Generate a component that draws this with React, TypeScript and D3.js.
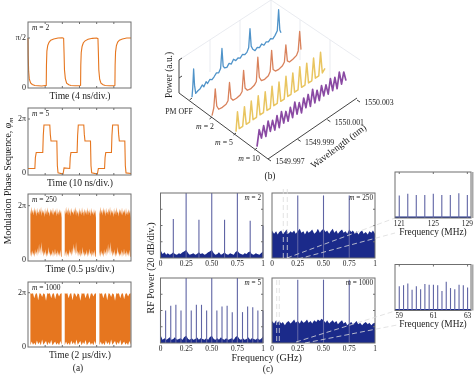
import React from "react";
import * as d3 from "d3";

const serif = "'Liberation Serif','Times New Roman',serif";
const ORANGE = "#e6761f";
const NAVY = "#1b2a8a";
const SPIKE = "#5f64a4";
const FRAME = "#6f6f6f";

// (a) m = 2 trace: time (ns) and phase (rad)
const a2T = [0,0.05,0.15,0.3,0.6,1,1.6,2.4,3.2,4,4.25,4.3,4.4,4.6,4.9,5.3,6,7,8,8.3,8.4,8.5,8.7,9,9.5,10,11,12,12.25,12.3,12.4,12.6,12.9,13.3,14,15,16,16.3,16.4,16.5,16.7,17,17.5,18,19,20,20.25,20.3,20.4,20.6,20.9,21.3,22,23,24];
const a2V = [1.57,1.0,0.5,0.26,0.13,0.08,0.05,0.04,0.03,0.05,0.05,0.7,1.15,1.33,1.43,1.5,1.54,1.57,1.58,1.56,1.1,0.55,0.27,0.12,0.07,0.05,0.04,0.04,0.05,0.7,1.1,1.3,1.42,1.48,1.53,1.56,1.57,1.55,1.1,0.55,0.25,0.12,0.07,0.05,0.04,0.04,0.05,0.7,1.12,1.33,1.44,1.5,1.54,1.57,1.57];

// (a) m = 5 trace: time (ns) and phase (units of 2 pi)
const a5T = [0,4,4.3,4.8,8.6,8.9,9.3,12.7,13,13.4,16.8,17.1,17.5,20.4,20.7,21,24.3,24.6,25,28.6,28.9,29.3,32.5,32.8,33.2,36.4,36.7,37.1,40.4,40.7,41,44.6,44.9,45.3,48.6,48.9,49.3,52.5,52.8,53.2,56.4,56.7,57.1,60];
const a5V = [0.1,0.1,0.3,0.39,0.39,0.7,0.89,0.89,0.72,0.6,0.6,0.15,0.02,0.0,0.05,0.11,0.1,0.3,0.39,0.39,0.7,0.89,0.89,0.72,0.6,0.6,0.15,0.02,0.0,0.05,0.1,0.1,0.3,0.39,0.39,0.7,0.89,0.89,0.72,0.6,0.6,0.15,0.02,0.01];

// (a) m = 250 and m = 1000 envelopes of one repeating sequence (units of 2 pi)
const a250Top = [.92,.84,.98,.86,.93,.82,.97,.85,.94,.80,.96,.86,.90,.83,.95,.87,.98,.81,.93,.85,.91,.79,.96,.84,.92,.82,.97,.86,.90,.80,.95,.85,.93,.83,.97,.82,.91,.86,.94,.80,.96,.84,.90,.82,.94,.85,.92,.78];
const a250Bot = [.06,.16,.05,.18,.08,.14,.05,.20,.10,.16,.07,.22,.09,.30,.12,.24,.08,.33,.11,.18,.06,.15,.08,.20,.05,.14,.07,.24,.09,.16,.06,.13,.08,.19,.05,.16,.07,.21,.09,.14,.05,.18,.08,.15,.06,.19,.07,.05];
const a1000Top = [.99,.98,.99,.90,.98,.99,.86,.99,.98,.92,.99,.97,.85,.99,.98,.99,.90,.98,.99,.88,.98,.99,.93,.98,.99];
const a1000Bot = [.03,.10,.04,.08,.03,.12,.05,.09,.03,.14,.04,.08,.11,.03,.09,.05,.13,.03,.07,.10,.04,.08,.03,.11,.04];
const blockStarts = [0.07, 1.07, 2.08];

// (b) optical spectra: offset from 1549.997 nm in pm, power (a.u.)
const offW = [0,0.05,0.11,0.17,0.25,0.4,0.55,0.7,0.8,0.95,1.05,1.2,1.35,1.5,1.65,1.8,1.93,2.02,2.1,2.2,2.35,2.5,2.65,2.8,2.95,3.1,3.25,3.4,3.55,3.7,3.82,3.91,3.99,4.1,4.25,4.4,4.55,4.7,4.85,5,5.15,5.3,5.45,5.6,5.75,5.84,5.92,6];
const offP = [0.03,0.35,1.0,0.4,0.08,0.12,0.14,0.22,0.12,0.25,0.15,0.24,0.18,0.24,0.32,0.27,0.38,1.06,0.4,0.3,0.27,0.36,0.28,0.4,0.3,0.34,0.28,0.36,0.3,0.33,0.45,1.1,0.45,0.3,0.2,0.26,0.2,0.28,0.18,0.25,0.2,0.26,0.2,0.27,0.38,1.1,0.35,0.22];
const m2W = [0,0.12,0.22,0.32,0.45,0.7,0.95,1.08,1.18,1.28,1.42,1.65,1.9,2.03,2.13,2.23,2.38,2.6,2.85,2.99,3.09,3.19,3.33,3.55,3.8,3.92,4.02,4.12,4.27,4.5,4.75,4.88,4.98,5.08,5.22,5.45,5.7,5.81,5.91,6];
const m2P = [0.05,0.28,0.93,0.28,0.12,0.1,0.12,0.2,0.82,0.22,0.1,0.09,0.12,0.2,0.92,0.25,0.12,0.09,0.13,0.22,1.05,0.3,0.13,0.1,0.14,0.25,0.97,0.25,0.14,0.12,0.16,0.25,0.83,0.22,0.13,0.15,0.2,0.32,0.98,0.3];
const m5W = [0,.1,.22,.45,.57,.69,.91,1.03,1.15,1.38,1.5,1.62,1.85,1.97,2.09,2.31,2.43,2.55,2.78,2.9,3.02,3.25,3.37,3.49,3.71,3.83,3.95,4.18,4.3,4.42,4.65,4.77,4.89,5.11,5.23,5.35,5.58,5.7,5.82,6];
const m5P = [0.05,.72,.08,.08,.74,.07,.07,.78,.07,.07,.8,.08,.08,.78,.07,.07,.82,.08,.08,.8,.07,.07,.84,.08,.08,.8,.07,.07,.86,.08,.08,.82,.07,.07,.84,.08,.08,.88,.1,.2];
const m10P = [0.05,0.6,0.25,0.64,0.2,0.7,0.28,0.62,0.22,0.68,0.2,0.72,0.26,0.62,0.22,0.66,0.24,0.74,0.26,0.62,0.2,0.68,0.28,0.7,0.22,0.78,0.24,0.64,0.22,0.7,0.28,0.62,0.24,0.74,0.26,0.68,0.22,0.76,0.28,0.66,0.3];
const offsetTicks = [0, 2, 4, 6];
const offsetTickLabels = ["1549.997", "1549.999", "1550.001", "1550.003"];
const seriesNames = ["PM OFF", "m = 2", "m = 5", "m = 10"];
const seriesColors = ["#4f93c9", "#d9825c", "#e9c560", "#8a4aa3"];

// (c) RF spectra: frequency (GHz), dB
const rfX = [0,.02,.04,.055,.07,.09,.105,.125,.14,.16,.18,.195,.215,.23,.25,.27,.285,.305,.32,.34,.355,.375,.39,.41,.43,.445,.465,.48,.5,.52,.535,.555,.57,.59,.605,.625,.64,.66,.68,.695,.715,.73,.75,.77,.785,.805,.82,.84,.855,.875,.89,.91,.93,.945,.965,.98,1];
const floorM2 = [-70,-75,-73,-76,-74,-76,-75,-73,-75,-76,-74,-75,-73,-72,-70,-74,-76,-75,-74,-76,-75,-73,-75,-74,-76,-75,-73,-72,-70,-74,-76,-75,-73,-76,-75,-73,-75,-76,-74,-75,-76,-73,-71,-74,-75,-76,-74,-75,-73,-72,-75,-76,-74,-75,-76,-74,-72];
const floorM5 = [-70,-76,-74,-76,-75,-73,-76,-75,-73,-76,-75,-74,-76,-73,-71,-75,-76,-74,-76,-75,-73,-76,-74,-75,-76,-74,-76,-73,-71,-75,-76,-74,-76,-73,-75,-76,-74,-76,-75,-74,-76,-73,-71,-75,-76,-74,-76,-75,-73,-76,-74,-75,-76,-74,-76,-75,-72];
const floorM250 = [-46,-50,-47,-51,-48,-46,-50,-48,-45,-50,-47,-49,-46,-50,-47,-44,-49,-47,-51,-46,-49,-47,-45,-50,-48,-44,-49,-46,-44,-48,-46,-50,-47,-44,-49,-46,-50,-47,-45,-49,-47,-50,-45,-48,-46,-50,-47,-51,-48,-46,-50,-48,-51,-47,-49,-46,-50];
const floorM1000 = [-53,-56,-52,-55,-53,-56,-54,-58,-55,-53,-56,-54,-51,-55,-53,-56,-52,-55,-54,-51,-55,-53,-56,-52,-54,-51,-53,-50,-52,-55,-52,-56,-54,-52,-55,-53,-57,-54,-52,-56,-54,-58,-56,-54,-57,-55,-53,-57,-55,-58,-56,-54,-57,-55,-58,-56,-55];
const m2SpikeF = [0,0.125,0.25,0.375,0.5,0.625,0.75,0.875,1];
const m2SpikeD = [-40,-32,0,-33,0,-33,0,-34,-40];
const m5SpikeF = [0,0.05,0.1,0.15,0.2,0.25,0.3,0.35,0.4,0.45,0.5,0.55,0.6,0.65,0.7,0.75,0.8,0.85,0.9,0.95,1];
const m5SpikeD = [-40,-40,-34,-33,-40,0,-40,-33,-33,-40,0,-40,-35,-34,-42,0,-42,-35,-36,-40,-40];
const m250SpikeF = [0.25,0.5,0.75];
const m250SpikeD = [-3,-3,-3];
const m1000SpikeF = [0.25,0.5,0.75];
const m1000SpikeD = [-2,-2,-2];
const rfTicks = [0,0.25,0.5,0.75,1];
const rfTickLabels = ["0","0.25","0.50","0.75","1"];
const dbTicks = [-60,-40,-20];

// (c) zoomed spectra
const in1F = [121,122,123,124,125,126,127,128,129];
const in1D = [-41,-38,-40,-40,-38,-40,-40,-37,-40];
const in2F = [59,59.25,59.5,59.75,60,60.25,60.5,60.75,61,61.25,61.5,61.75,62,62.25,62.5,62.75,63];
const in2D = [-38,-36,-33,-44,-38,-43,-34,-35,-35,-36,-46,-30,-41,-43,-35,-36,-40];
const in1Ticks = [121,125,129];
const in2Ticks = [59,61,63];

const T = (p: any) => <text fontFamily={serif} fill="#222" {...p} />;
const M = ({ x, y, v, anchor = "start", size = 7.5 }: any) => (
  <T x={x} y={y} fontSize={size} textAnchor={anchor} dominantBaseline="middle">
    <tspan fontStyle="italic">m</tspan> = {v}
  </T>
);

function Frame({ x0, x1, y0, y1 }: any) {
  return <rect x={x0} y={y0} width={x1 - x0} height={y1 - y0} fill="none" stroke={FRAME} strokeWidth={1} />;
}

function TimePanel({ y0, y1, zero, top, yMax, children, name, xLabel }: any) {
  const x0 = 28, x1 = 131;
  const tickX = d3.range(1, 6).map((i) => x0 + ((x1 - x0) * i) / 6);
  return (
    <g>
      {children}
      <Frame x0={x0} x1={x1} y0={y0} y1={y1} />
      {tickX.map((x) => (
        <g key={x}>
          <line x1={x} x2={x} y1={y0} y2={y0 + 2} stroke={FRAME} />
          <line x1={x} x2={x} y1={y1} y2={y1 - 2} stroke={FRAME} />
        </g>
      ))}
      <line x1={x0} x2={x0 + 2} y1={top} y2={top} stroke={FRAME} />
      <T x={26} y={top} fontSize={8} textAnchor="end" dominantBaseline="middle">{yMax}</T>
      <T x={26} y={zero} fontSize={8} textAnchor="end" dominantBaseline="middle">0</T>
      <M x={32} y={y0 + 6} v={name} />
      <T x={80} y={y1 + 8.5} fontSize={9.6} textAnchor="middle" dominantBaseline="middle">{xLabel}</T>
    </g>
  );
}

function RfPanel({ x0, x1, y0, y1, floor, spikeF, spikeD, name, left }: any) {
  const x = d3.scaleLinear().domain([0, 1]).range([x0, x1]);
  const y = d3.scaleLinear().domain([-80, 0]).range([y1, y0]);
  const area = d3.area<number>().x((_, i) => x(rfX[i])).y0(y1).y1((d) => y(d)).curve(d3.curveLinear);
  return (
    <g>
      <path d={area(floor) as string} fill={NAVY} />
      {spikeF.map((f: number, i: number) => (
        <line key={f} x1={x(f)} x2={x(f)} y1={y1} y2={y(spikeD[i])} stroke={SPIKE} strokeWidth={1.1} />
      ))}
      <Frame x0={x0} x1={x1} y0={y0} y1={y1} />
      {left && dbTicks.map((d) => <line key={d} x1={x0} x2={x0 + 2} y1={y(d)} y2={y(d)} stroke={FRAME} />)}
      {dbTicks.map((d) => <line key={d} x1={x1} x2={x1 - 2} y1={y(d)} y2={y(d)} stroke={FRAME} />)}
      {rfTicks.map((f, i) => (
        <T key={f} x={x(f)} y={y1 + 6} fontSize={7.4} textAnchor="middle" dominantBaseline="middle">{rfTickLabels[i]}</T>
      ))}
      <M x={x1 - 2} y={y0 + 5} v={name} anchor="end" size={7.2} />
    </g>
  );
}

function Inset({ y0, y1, dom, f, d, ticks, labelY }: any) {
  const x0 = 395, x1 = 471;
  const x = d3.scaleLinear().domain(dom).range([x0, x1]);
  const y = d3.scaleLinear().domain([-80, 0]).range([y1, y0]);
  return (
    <g>
      <rect x={x0} y={y1 - 1.5} width={x1 - x0} height={1.5} fill={NAVY} />
      {f.map((v: number, i: number) => (
        <line key={v} x1={x(v)} x2={x(v)} y1={y1} y2={y(d[i])} stroke={SPIKE} strokeWidth={1.1} />
      ))}
      <Frame x0={x0} x1={x1} y0={y0} y1={y1} />
      <rect x={x1 + 0.5} y={y0} width={2} height={y1 - y0} fill="#a8a8a8" />
      {ticks.map((v: number) => (
        <g key={v}>
          <line x1={x(v)} x2={x(v)} y1={y0} y2={y0 + 2} stroke={FRAME} />
          <T x={x(v)} y={y1 + 6} fontSize={7.4} textAnchor="middle" dominantBaseline="middle">{v}</T>
        </g>
      ))}
      <T x={433} y={labelY} fontSize={9.4} textAnchor="middle" dominantBaseline="middle">Frequency (MHz)</T>
    </g>
  );
}

function Guides() {
  const segs = [
    [283.3, 189, 283.3, 258], [287.3, 189, 287.3, 258],
    [276.7, 280, 276.7, 343], [279.3, 280, 279.3, 343],
    [287, 258, 395, 218], [298, 259, 395, 233],
    [296, 342, 395, 311], [305, 343, 397, 325],
  ];
  return (
    <g>
      {segs.map((s, i) => (
        <line key={i} x1={s[0]} y1={s[1]} x2={s[2]} y2={s[3]} stroke="#dcdcdc" strokeWidth={0.8} strokeDasharray="5 3" />
      ))}
    </g>
  );
}

function Panel3D() {
  const wx = d3.scaleLinear().domain([0, 6]).range([0, 89]);
  const wy = d3.scaleLinear().domain([0, 6]).range([0, -59]);
  const pw = d3.scaleLinear().domain([0, 1]).range([0, -28]);
  const startX = [192, 212, 236, 257];
  const startY = [98, 117, 133, 148];
  const line = (s: number) =>
    d3.line<[number, number]>()
      .x((d) => startX[s] + wx(d[0]))
      .y((d) => startY[s] + wy(d[0]) + pw(d[1]))
      .curve(d3.curveLinear);
  const even = (vals: number[]) => {
    const idx = d3.scaleLinear().domain([0, vals.length - 1]).range([0, 6]);
    return vals.map((v, i) => [idx(i), v] as [number, number]);
  };
  const zip = (w: number[], p: number[]) => w.map((v, i) => [v, p[i]] as [number, number]);
  const series = [zip(offW, offP), zip(m2W, m2P), zip(m5W, m5P), even(m10P)];
  const fx = (w: number) => 268 + wx(w);
  const fy = (w: number) => 159 + wy(w);
  const wallGrid = [[179, 60, 271, 0], [271, 0, 360, 60], [210, 40, 210, 72], [240, 20, 240, 52], [271, 0, 271, 40], [300, 20, 300, 60], [330, 40, 330, 80]];
  return (
    <g>
      {wallGrid.map((s, i) => (
        <line key={i} x1={s[0]} y1={s[1]} x2={s[2]} y2={s[3]} stroke="#e3e6ec" strokeWidth={0.8} />
      ))}
      <line x1={179} y1={60} x2={179} y2={93} stroke="#444" strokeWidth={1} />
      <line x1={179} y1={78} x2={182} y2={76} stroke="#444" />
      <line x1={179} y1={60} x2={182} y2={58} stroke="#444" />
      <line x1={179} y1={93} x2={268} y2={159} stroke="#444" strokeWidth={1} />
      <line x1={268} y1={159} x2={357} y2={98} stroke="#444" strokeWidth={1} />
      {offsetTicks.map((w, i) => (
        <g key={w}>
          <line x1={fx(w)} y1={fy(w)} x2={fx(w) + 3} y2={fy(w) + 2} stroke="#444" />
          <T x={fx(w) + 22} y={fy(w) + 3.5} fontSize={7.8} textAnchor="middle" dominantBaseline="middle">{offsetTickLabels[i]}</T>
        </g>
      ))}
      {series.map((pts, i) => (
        <path key={i} d={line(i)(pts) as string} fill="none" stroke={seriesColors[i]} strokeWidth={i === 3 ? 1.7 : i === 2 ? 1.5 : 1.3} strokeLinejoin="round" />
      ))}
      {seriesNames.map((n, i) => (
        <line key={n} x1={startX[i]} y1={startY[i]} x2={startX[i] - 2.5} y2={startY[i] + 2} stroke="#444" />
      ))}
      <T x={179} y={112} fontSize={7.8} textAnchor="middle" dominantBaseline="middle">PM OFF</T>
      <M x={205} y={127} v={2} anchor="middle" size={7.8} />
      <M x={224} y={143} v={5} anchor="middle" size={7.8} />
      <M x={249} y={159} v={10} anchor="middle" size={7.8} />
      <T transform="translate(170,75) rotate(-90)" fontSize={9.4} textAnchor="middle" dominantBaseline="middle">Power (a.u.)</T>
      <T transform="translate(339,147) rotate(-37)" fontSize={9.6} textAnchor="middle" dominantBaseline="middle">Wavelength (nm)</T>
      <T x={270} y={177} fontSize={9.4} textAnchor="middle" dominantBaseline="middle">(b)</T>
    </g>
  );
}

function Block({ top, bot, y, tx }: any) {
  return (
    <g>
      {blockStarts.map((s) => {
        const idx = d3.scaleLinear().domain([0, top.length - 1]).range([s, s + 0.91]);
        const a = d3.area<number>().x((_, i) => tx(idx(i))).y1((d) => y(d)).y0((_, i) => y(bot[i]));
        return <path key={s} d={a(top) as string} fill={ORANGE} />;
      })}
    </g>
  );
}

export default function App() {
  const t2 = d3.scaleLinear().domain([0, 24]).range([28, 131]);
  const y2 = d3.scaleLinear().domain([0, Math.PI / 2]).range([87, 38]);
  const t5 = d3.scaleLinear().domain([0, 60]).range([28, 131]);
  const y5 = d3.scaleLinear().domain([0, 1]).range([174, 119]);
  const tb = d3.scaleLinear().domain([0, 3]).range([28, 131]);
  const y250 = d3.scaleLinear().domain([0, 1]).range([260, 205.7]);
  const y1000 = d3.scaleLinear().domain([0, 1]).range([347, 292.7]);
  const l2 = d3.line<number>().x((_, i) => t2(a2T[i])).y((d) => y2(d));
  const l5 = d3.line<number>().x((_, i) => t5(a5T[i])).y((d) => y5(d));
  return (
    <svg width={474} height={375} viewBox="0 0 474 375"
      style={{ position: "absolute", left: 0, top: 0, background: "#fff", filter: "blur(0.35px)" }}>
      <TimePanel y0={22} y1={88} zero={88} top={38} yMax={"\u03c0/2"} name={2} xLabel="Time (4 ns/div.)">
        <path d={l2(a2V) as string} fill="none" stroke={ORANGE} strokeWidth={1.1} />
      </TimePanel>
      <TimePanel y0={108} y1={175} zero={173.5} top={119} yMax={"2\u03c0"} name={5} xLabel="Time (10 ns/div.)">
        <path d={l5(a5V) as string} fill="none" stroke={ORANGE} strokeWidth={1.1} />
      </TimePanel>
      <TimePanel y0={194} y1={261} zero={260} top={205.7} yMax={"2\u03c0"} name={250} xLabel={"Time (0.5 \u00b5s/div.)"}>
        <Block top={a250Top} bot={a250Bot} y={y250} tx={tb} />
      </TimePanel>
      <TimePanel y0={282} y1={347} zero={347} top={292.7} yMax={"2\u03c0"} name={1000} xLabel={"Time (2 \u00b5s/div.)"}>
        <Block top={a1000Top} bot={a1000Bot} y={y1000} tx={tb} />
      </TimePanel>
      <T transform="translate(8.5,181) rotate(-90)" fontSize={9.8} textAnchor="middle" dominantBaseline="middle">
        Modulation Phase Sequence, <tspan fontStyle="italic">{"\u03c6"}</tspan><tspan fontStyle="italic" fontSize={7} dy={2}>m</tspan>
      </T>
      <T x={78} y={369} fontSize={9.4} textAnchor="middle" dominantBaseline="middle">(a)</T>

      <Panel3D />

      <RfPanel x0={160.5} x1={263} y0={193} y1={258} floor={floorM2} spikeF={m2SpikeF} spikeD={m2SpikeD} name={2} left />
      <RfPanel x0={272} x1={375} y0={193} y1={258} floor={floorM250} spikeF={m250SpikeF} spikeD={m250SpikeD} name={250} />
      <RfPanel x0={160.5} x1={263} y0={278} y1={343} floor={floorM5} spikeF={m5SpikeF} spikeD={m5SpikeD} name={5} left />
      <RfPanel x0={272} x1={375} y0={278} y1={343} floor={floorM1000} spikeF={m1000SpikeF} spikeD={m1000SpikeD} name={1000} />
      <Guides />
      <T transform="translate(152,268) rotate(-90)" fontSize={10} textAnchor="middle" dominantBaseline="middle">RF Power (20 dB/div.)</T>
      <T x={266.7} y={359} fontSize={10} textAnchor="middle" dominantBaseline="middle">Frequency (GHz)</T>
      <T x={268} y={370} fontSize={9.4} textAnchor="middle" dominantBaseline="middle">(c)</T>

      <Inset y0={172} y1={218} dom={[120.5, 129.43]} f={in1F} d={in1D} ticks={in1Ticks} labelY={233} />
      <Inset y0={264.5} y1={310.5} dom={[58.75, 63.2]} f={in2F} d={in2D} ticks={in2Ticks} labelY={325} />
    </svg>
  );
}
